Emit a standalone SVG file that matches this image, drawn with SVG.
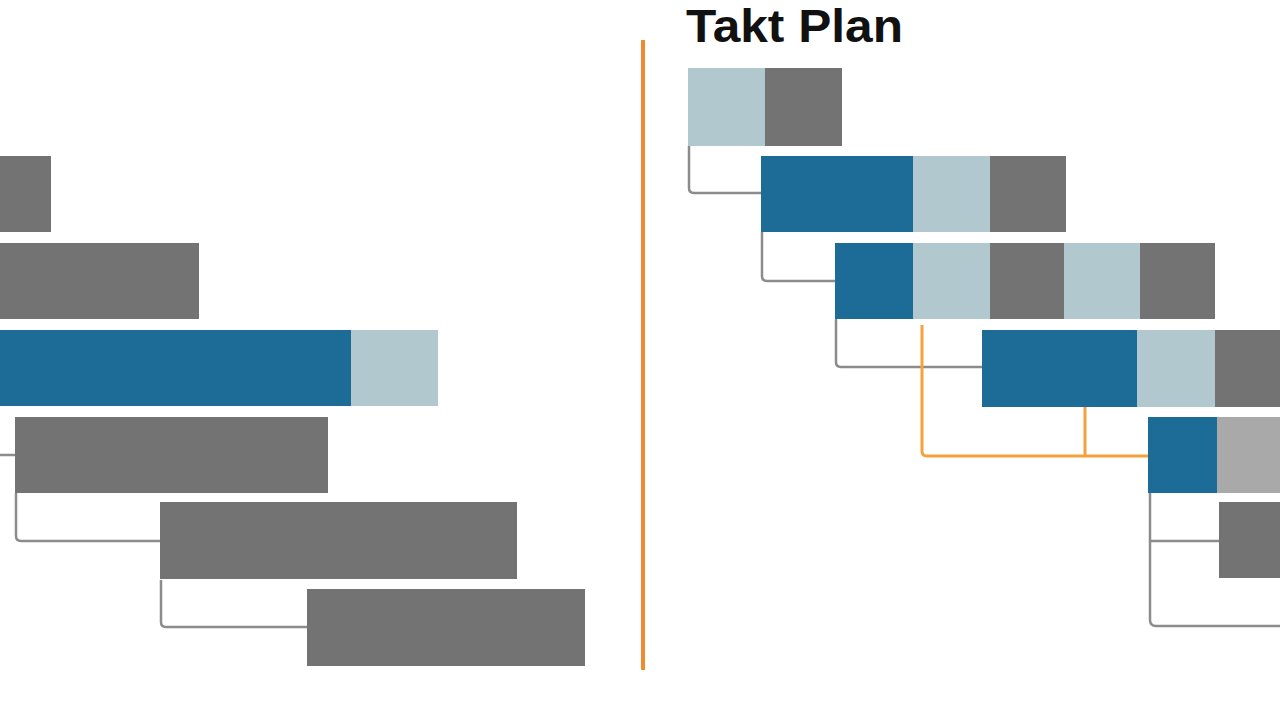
<svg xmlns="http://www.w3.org/2000/svg" width="1280" height="720" viewBox="0 0 1280 720">
<style>
.b{fill:#1d6c97}
.l{fill:#b1c8cf}
.g{fill:#737373}
.lg{fill:#a9a9a9}
.c{fill:none;stroke:#8c8c8c;stroke-width:2.5;stroke-linejoin:round}
.o{fill:none;stroke:#f5a23c;stroke-width:3;stroke-linejoin:round}
.t{font-family:"Liberation Sans",Arial,sans-serif;font-weight:bold;font-size:46px;fill:#111}
</style>
<rect width="1280" height="720" fill="#fff"/>
<g id="connectors">
<path class="c" d="M0,455 H15"/>
<path class="c" d="M16,493 V536 Q16,541 21,541 H160"/>
<path class="c" d="M161,580 V622 Q161,627 166,627 H307"/>
<path class="c" d="M689,146 V188 Q689,193 694,193 H761"/>
<path class="c" d="M762,232 V276 Q762,281 767,281 H835"/>
<path class="c" d="M836,319 V362 Q836,367 841,367 H982"/>
<path class="c" d="M1150,493 V620 Q1150,626 1156,626 H1280"/>
<path class="c" d="M1150,541 H1220"/>
<path class="o" d="M922,325 V451 Q922,456 927,456 H1148"/>
<path class="o" d="M1085,407 V456"/>
<line x1="643" y1="40" x2="643" y2="670" stroke="#f28a30" stroke-width="4"/>
</g>
<g id="left-a"><rect class="g" x="0" y="156" width="51" height="76"/></g>
<g id="left-b"><rect class="g" x="0" y="243" width="199" height="76"/></g>
<g id="left-c"><rect class="b" x="0" y="330" width="351" height="76"/><rect class="l" x="351" y="330" width="87" height="76"/></g>
<g id="left-d"><rect class="g" x="15" y="417" width="313" height="76"/></g>
<g id="left-e"><rect class="g" x="160" y="502" width="357" height="77"/></g>
<g id="left-f"><rect class="g" x="307" y="589" width="278" height="77"/></g>
<g id="title"><text class="t" x="686" y="42" textLength="217" lengthAdjust="spacingAndGlyphs">Takt Plan</text></g>
<g id="takt-1"><rect class="l" x="688" y="68" width="77" height="78"/><rect class="g" x="765" y="68" width="77" height="78"/></g>
<g id="takt-2"><rect class="b" x="761" y="156" width="152" height="76"/><rect class="l" x="913" y="156" width="77" height="76"/><rect class="g" x="990" y="156" width="76" height="76"/></g>
<g id="takt-3"><rect class="b" x="835" y="243" width="78" height="76"/><rect class="l" x="913" y="243" width="77" height="76"/><rect class="g" x="990" y="243" width="74" height="76"/><rect class="l" x="1064" y="243" width="76" height="76"/><rect class="g" x="1140" y="243" width="75" height="76"/></g>
<g id="takt-4"><rect class="b" x="982" y="330" width="155" height="77"/><rect class="l" x="1137" y="330" width="78" height="77"/><rect class="g" x="1215" y="330" width="65" height="77"/></g>
<g id="takt-5"><rect class="b" x="1148" y="417" width="69" height="76"/><rect class="lg" x="1217" y="417" width="63" height="76"/></g>
<g id="takt-6"><rect class="g" x="1219" y="502" width="61" height="76"/></g>
</svg>
